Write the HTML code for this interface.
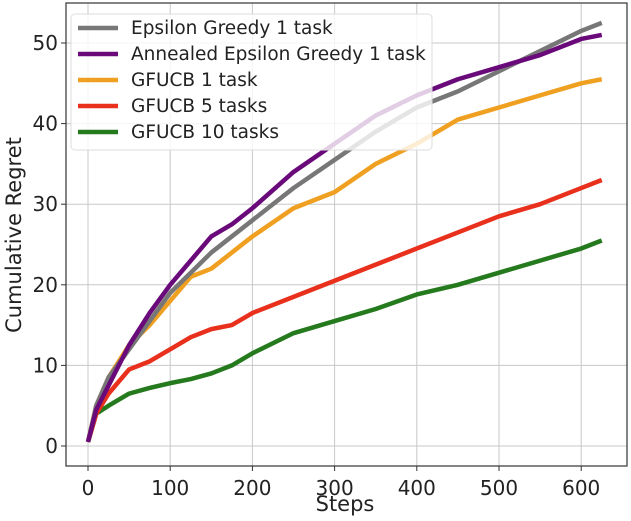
<!DOCTYPE html>
<html><head><meta charset="utf-8"><style>
body{margin:0;background:#fff}
svg{font-family:"DejaVu Sans","Liberation Sans",sans-serif}
</style></head><body>
<svg id="chart" width="631" height="516"></svg>
<script>
const steps=[0,10,25,50,75,100,125,150,175,200,250,300,350,400,450,500,550,600,625];
const seriesNames=["Epsilon Greedy 1 task","Annealed Epsilon Greedy 1 task","GFUCB 1 task","GFUCB 5 tasks","GFUCB 10 tasks"];
const epsGreedy=[0.5,5,8.5,12,15.5,19,21.5,24,26,28,32,35.5,39,42,44,46.5,49,51.5,52.5];
const annealed=[0.5,4.5,7.5,12.5,16.5,20,23,26,27.5,29.5,34,37.5,41,43.5,45.5,47,48.5,50.5,51];
const gfucb1=[0.5,5,8.5,12.5,15,18,21,22,24,26,29.5,31.5,35,37.5,40.5,42,43.5,45,45.5];
const gfucb5=[0.5,4,6.5,9.5,10.5,12,13.5,14.5,15,16.5,18.5,20.5,22.5,24.5,26.5,28.5,30,32,33];
const gfucb10=[0.5,4,5,6.5,7.2,7.8,8.3,9,10,11.5,14,15.5,17,18.8,20,21.5,23,24.5,25.5];
const xTicks=[0,100,200,300,400,500,600];
const yTicks=[0,10,20,30,40,50];
const colors=["#777777","#6a0a7a","#f0a020","#e8301c","#247a1c"];
const L=66,R=627,T=3,B=466;
const x=v=>88+v*0.822;
const y=v=>446-v*8.06;
const svg=document.getElementById('chart');
const NS="http://www.w3.org/2000/svg";
function mk(t,a,p){const e=document.createElementNS(NS,t);for(const k in a)e.setAttribute(k,a[k]);(p||svg).appendChild(e);return e;}
xTicks.forEach(t=>{
 const g=mk('line',{x1:x(t),x2:x(t),y1:T,y2:B,stroke:'#c8c8c8','stroke-width':1});
 
 
 mk('line',{x1:x(t),x2:x(t),y1:B,y2:B+5,stroke:'#333'});
 const tx=mk('text',{x:x(t),y:B+29,'text-anchor':'middle','font-size':20,fill:'#222'});
 tx.textContent=t;
 
 
});
yTicks.forEach(t=>{
 const g=mk('line',{x1:L,x2:R,y1:y(t),y2:y(t),stroke:'#c8c8c8','stroke-width':1});
 
 
 mk('line',{x1:L-5,x2:L,y1:y(t),y2:y(t),stroke:'#333'});
 const tx=mk('text',{x:L-8,y:y(t)+7,'text-anchor':'end','font-size':20,fill:'#222'});
 tx.textContent=t;
 
 
});
const data=[epsGreedy,annealed,gfucb1,gfucb5,gfucb10];
const keys=['epsilon-greedy-line','annealed-epsilon-line','gfucb-1-line','gfucb-5-line','gfucb-10-line'];
[4,3,2,0,1].forEach(i=>{
 const pts=steps.map((s,j)=>x(s)+','+y(data[i][j])).join(' ');
 const p=mk('polyline',{points:pts,fill:'none',stroke:colors[i],'stroke-width':4.5,'stroke-linejoin':'round'});
 
 
});
const ax=mk('rect',{x:L,y:T,width:R-L,height:B-T,fill:'none',stroke:'#333','stroke-width':1.2});


const lg=mk('g',{});


mk('rect',{x:71,y:14,width:361,height:136,rx:4,fill:'#fff','fill-opacity':0.8,stroke:'#ddd'},lg);
seriesNames.forEach((n,i)=>{
 const yy=34+i*26;
 mk('line',{x1:78,x2:118,y1:yy-6,y2:yy-6,stroke:colors[i],'stroke-width':4.5},lg);
 const t=mk('text',{x:131,y:yy,'font-size':18.5,fill:'#222'},lg);
 t.textContent=n;
 
 
});
const xt=mk('text',{x:345,y:511,'text-anchor':'middle','font-size':21,fill:'#222'});
xt.textContent='Steps';


const yt=mk('text',{x:0,y:0,'text-anchor':'middle','font-size':21,fill:'#222',transform:'translate(21,235) rotate(-90)'});
yt.textContent='Cumulative Regret';


</script>
</body></html>
